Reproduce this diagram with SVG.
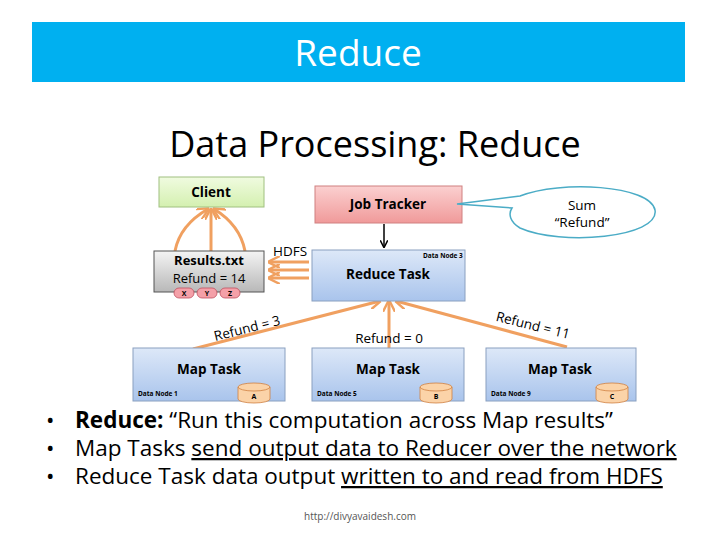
<svg xmlns="http://www.w3.org/2000/svg" width="720" height="540" viewBox="0 0 720 540">
<defs>
<linearGradient id="blue" x1="0" y1="0" x2="0" y2="1"><stop offset="0" stop-color="#dde8f8"/><stop offset="1" stop-color="#a9c4ec"/></linearGradient>
<linearGradient id="red" x1="0" y1="0" x2="0" y2="1"><stop offset="0" stop-color="#fbd0d0"/><stop offset="1" stop-color="#f09a9a"/></linearGradient>
<linearGradient id="green" x1="0" y1="0" x2="0" y2="1"><stop offset="0" stop-color="#f0fbe0"/><stop offset="1" stop-color="#d4f0b0"/></linearGradient>
<linearGradient id="grey" x1="0" y1="0" x2="0" y2="1"><stop offset="0" stop-color="#f4f4f4"/><stop offset="1" stop-color="#b8b8b8"/></linearGradient>
<marker id="oa" viewBox="0 0 10 10" refX="9" refY="5" markerWidth="4" markerHeight="4" orient="auto"><path d="M0,0 L10,5 L0,10" fill="none" stroke="#f0a060" stroke-width="2"/></marker>
<marker id="ba" viewBox="0 0 10 10" refX="9" refY="5" markerWidth="5" markerHeight="5" orient="auto"><path d="M0,0 L10,5 L0,10" fill="none" stroke="#000" stroke-width="2"/></marker>
</defs>
<style>
text{font-family:"Open Sans","Liberation Sans",sans-serif}
.box{stroke:#8aa0c0;stroke-width:1}
.lbl{font-size:13.5px;font-weight:bold;text-anchor:middle;fill:#000}
.dn{font-size:6.5px;font-weight:bold;fill:#000}
.o{stroke:#f0a060;stroke-width:3;fill:none}
.cyl{fill:#fbd3a8;stroke:#d08040;stroke-width:0.8}
.pcyl{fill:#f4a0a8;stroke:#c05060;stroke-width:0.8}
.cl{font-size:7px;font-weight:bold;text-anchor:middle}
.b{font-size:22.5px;fill:#000}
.t{font-size:13.5px}
</style>
<rect x="32" y="22" width="653" height="60" fill="#00b0f0"/>
<text x="358" y="66" font-size="37" fill="#fff" text-anchor="middle">Reduce</text>
<text x="375" y="157" font-size="36" fill="#000" text-anchor="middle">Data Processing: Reduce</text>

<g id="connectors">
<line x1="384" y1="224" x2="384" y2="247" stroke="#000" stroke-width="1.5" marker-end="url(#ba)"/>
<path class="o" d="M193,349 L380,301" marker-end="url(#oa)"/>
<path class="o" d="M389,348 L389,301" marker-end="url(#oa)"/>
<path class="o" d="M567,347 L396,301" marker-end="url(#oa)"/>
<path class="o" d="M309,262 L269,262" marker-end="url(#oa)"/>
<path class="o" d="M309,270 L269,270" marker-end="url(#oa)"/>
<path class="o" d="M309,278 L269,278" marker-end="url(#oa)"/>
<path class="o" d="M175,251 Q180,225 208,209" marker-end="url(#oa)"/>
<path class="o" d="M211,251 L211,209" marker-end="url(#oa)"/>
<path class="o" d="M245,251 Q240,225 214,209" marker-end="url(#oa)"/>
<text class="t" x="247" y="333" transform="rotate(-14 247 328)" text-anchor="middle">Refund = 3</text>
<text class="t" x="389" y="343" text-anchor="middle">Refund = 0</text>
<text class="t" x="533" y="330" transform="rotate(14 533 325)" text-anchor="middle">Refund = 11</text>
<text class="t" x="290" y="256" text-anchor="middle">HDFS</text>
</g>

<g id="client"><rect x="159" y="177" width="105" height="30" fill="url(#green)" stroke="#a0c080"/><text class="lbl" x="211" y="197">Client</text></g>
<g id="jobtracker"><rect x="315" y="186" width="147" height="37" fill="url(#red)" stroke="#d08080"/><text class="lbl" x="388" y="209">Job Tracker</text></g>
<g id="callout">
<path d="M520,196 C560,180 650,185 655,210 C660,238 560,246 520,228 C510,222 508,214 512,208 L457,204 Z" fill="#fff" stroke="#4bacc6" stroke-width="1.5"/>
<text class="t" x="582" y="210" text-anchor="middle">Sum</text>
<text class="t" x="582" y="227" text-anchor="middle">“Refund”</text>
</g>
<g id="results">
<rect x="154" y="251" width="110" height="41" fill="url(#grey)" stroke="#555"/>
<text x="209" y="265" font-size="13" font-weight="bold" text-anchor="middle">Results.txt</text>
<text x="209" y="283" font-size="13" text-anchor="middle">Refund = 14</text>
<g><rect class="pcyl" x="174" y="288" width="20" height="10" rx="5"/><text class="cl" x="184" y="296">X</text>
<rect class="pcyl" x="197" y="288" width="20" height="10" rx="5"/><text class="cl" x="207" y="296">Y</text>
<rect class="pcyl" x="220" y="288" width="20" height="10" rx="5"/><text class="cl" x="230" y="296">Z</text></g>
</g>
<g id="reduce"><rect class="box" x="312" y="250" width="153" height="51" fill="url(#blue)"/><text class="dn" x="423" y="258">Data Node 3</text><text class="lbl" x="388" y="279">Reduce Task</text></g>
<g id="map1"><rect class="box" x="133" y="348" width="152" height="53" fill="url(#blue)"/><text class="lbl" x="209" y="374">Map Task</text><text class="dn" x="138" y="396">Data Node 1</text>
<path class="cyl" d="M238,387 v12 a16,4 0 0 0 32,0 v-12 a16,4 0 0 0 -32,0 a16,4 0 0 0 32,0"/><text class="cl" x="254" y="399">A</text></g>
<g id="map2"><rect class="box" x="312" y="348" width="152" height="53" fill="url(#blue)"/><text class="lbl" x="388" y="374">Map Task</text><text class="dn" x="317" y="396">Data Node 5</text>
<path class="cyl" d="M420,387 v12 a16,4 0 0 0 32,0 v-12 a16,4 0 0 0 -32,0 a16,4 0 0 0 32,0"/><text class="cl" x="436" y="399">B</text></g>
<g id="map3"><rect class="box" x="486" y="348" width="150" height="53" fill="url(#blue)"/><text class="lbl" x="560" y="374">Map Task</text><text class="dn" x="491" y="396">Data Node 9</text>
<path class="cyl" d="M596,387 v12 a16,4 0 0 0 32,0 v-12 a16,4 0 0 0 -32,0 a16,4 0 0 0 32,0"/><text class="cl" x="612" y="399">C</text></g>

<g id="bullets">
<text class="b" x="46" y="428">•</text><text class="b" x="75" y="428"><tspan font-weight="bold">Reduce:</tspan> “Run this computation across Map results”</text>
<text class="b" x="46" y="456">•</text><text class="b" x="75" y="456">Map Tasks <tspan text-decoration="underline">send output data to Reducer over the network</tspan></text>
<text class="b" x="46" y="484">•</text><text class="b" x="75" y="484">Reduce Task data output <tspan text-decoration="underline">written to and read from HDFS</tspan></text>
</g>
<text x="360" y="520" font-size="10" fill="#555" text-anchor="middle">http://divyavaidesh.com</text>
</svg>
